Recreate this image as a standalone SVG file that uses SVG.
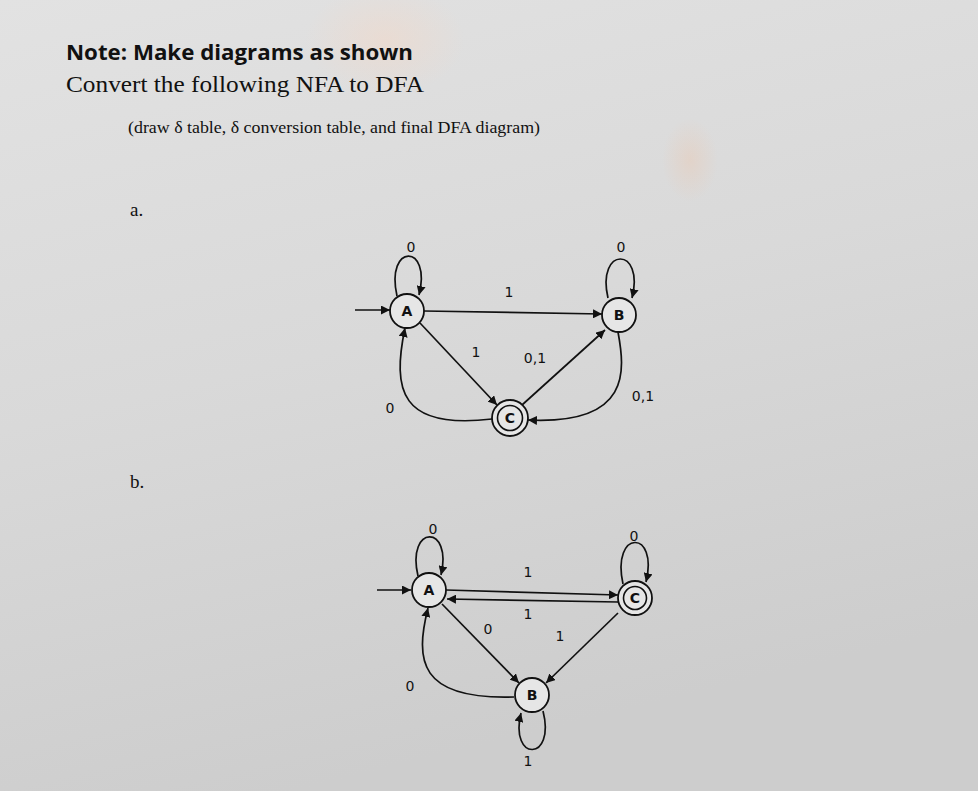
<svg xmlns="http://www.w3.org/2000/svg" width="978" height="791" viewBox="0 0 978 791">
<defs>
<linearGradient id="bg" x1="0" y1="0" x2="0.3" y2="1">
<stop offset="0" stop-color="#e2e2e2"/>
<stop offset="0.5" stop-color="#d9d9d9"/>
<stop offset="1" stop-color="#cdcdcd"/>
</linearGradient>
<radialGradient id="glare1" cx="0.5" cy="0.5" r="0.5">
<stop offset="0" stop-color="#f2d8c8" stop-opacity="0.55"/>
<stop offset="1" stop-color="#f2d8c8" stop-opacity="0"/>
</radialGradient>
<radialGradient id="glare2" cx="0.5" cy="0.5" r="0.5">
<stop offset="0" stop-color="#eec4a8" stop-opacity="0.35"/>
<stop offset="1" stop-color="#eec4a8" stop-opacity="0"/>
</radialGradient>
<marker id="arr" viewBox="0 0 10 10" refX="10" refY="5" markerWidth="9" markerHeight="9" markerUnits="userSpaceOnUse" orient="auto">
<path d="M0,0 L10,5 L0,10 z" fill="#111"/>
</marker>
<style>
.edge{fill:none;stroke:#111;stroke-width:1.7;marker-end:url(#arr)}
.st{fill:#e6e6e6;stroke:#111;stroke-width:1.8}
.in{fill:none;stroke:#111;stroke-width:1.6}
.sl{font-family:"DejaVu Sans",sans-serif;font-weight:bold;font-size:14px;fill:#111;text-anchor:middle}
.el{font-family:"DejaVu Sans",sans-serif;font-size:14px;fill:#111;text-anchor:middle}
.serif{font-family:"Liberation Serif",serif;fill:#111}
</style>
</defs>
<rect width="978" height="791" fill="url(#bg)"/>
<ellipse cx="385" cy="40" rx="80" ry="55" fill="url(#glare1)"/>
<ellipse cx="690" cy="160" rx="28" ry="42" fill="url(#glare2)"/>

<g id="text">
<text x="66" y="60" font-family="'Open Sans','Liberation Sans',sans-serif" font-weight="bold" font-size="21" fill="#111" textLength="347" lengthAdjust="spacingAndGlyphs">Note: Make diagrams as shown</text>
<text class="serif" x="66" y="92" font-size="23" textLength="358" lengthAdjust="spacingAndGlyphs">Convert the following NFA to DFA</text>
<text class="serif" x="128" y="133" font-size="16" textLength="412" lengthAdjust="spacingAndGlyphs">(draw δ table, δ conversion table, and final DFA diagram)</text>
<text class="serif" x="130" y="216" font-size="19">a.</text>
<text class="serif" x="130" y="488" font-size="19">b.</text>
</g>

<!-- Diagram a -->
<g id="a-connectors">
<path class="edge" d="M355,310 L390,310"/>
<path class="edge" d="M397,296 C385,243 432,243 419,295"/>
<path class="edge" d="M608,298 C596,246 645,246 632,298"/>
<path class="edge" d="M424,311 L602,314"/>
<path class="edge" d="M420,323 L497,405"/>
<path class="edge" d="M522,405 L605,330"/>
<path class="edge" d="M618,332 C625,370 632,425 528,420"/>
<path class="edge" d="M492,419 C400,430 392,390 405,328"/>
<text class="el" x="411" y="252">0</text>
<text class="el" x="621" y="252">0</text>
<text class="el" x="509" y="297">1</text>
<text class="el" x="476" y="357">1</text>
<text class="el" x="535" y="363">0,1</text>
<text class="el" x="643" y="401">0,1</text>
<text class="el" x="390" y="413">0</text>
</g>
<g id="a-A"><circle class="st" cx="407" cy="311" r="17"/><text class="sl" x="407" y="316">A</text></g>
<g id="a-B"><circle class="st" cx="619" cy="315" r="17"/><text class="sl" x="619" y="320">B</text></g>
<g id="a-C"><circle class="st" cx="510" cy="418" r="18"/><circle class="in" cx="510" cy="418" r="12.5"/><text class="sl" x="510" y="423">C</text></g>

<!-- Diagram b -->
<g id="b-connectors">
<path class="edge" d="M377,590 L411,590"/>
<path class="edge" d="M418,576 C406,524 453,524 441,575"/>
<path class="edge" d="M623,584 C611,529 659,529 646,582"/>
<path class="edge" d="M446,590 L618,595"/>
<path class="edge" d="M618,602 L447,599"/>
<path class="edge" d="M442,604 L519,683"/>
<path class="edge" d="M618,613 L546,683"/>
<path class="edge" d="M514,697 C418,700 415,660 428,608"/>
<path class="edge" d="M543,711 C556,762 509,762 521,713"/>
<text class="el" x="433" y="534">0</text>
<text class="el" x="634" y="541">0</text>
<text class="el" x="528" y="577">1</text>
<text class="el" x="528" y="619">1</text>
<text class="el" x="488" y="634">0</text>
<text class="el" x="560" y="641">1</text>
<text class="el" x="410" y="691">0</text>
<text class="el" x="528" y="766">1</text>
</g>
<g id="b-A"><circle class="st" cx="429" cy="590" r="17"/><text class="sl" x="429" y="595">A</text></g>
<g id="b-C"><circle class="st" cx="635" cy="598" r="17"/><circle class="in" cx="635" cy="598" r="11.5"/><text class="sl" x="635" y="603">C</text></g>
<g id="b-B"><circle class="st" cx="532" cy="695" r="17"/><text class="sl" x="532" y="700">B</text></g>
</svg>
